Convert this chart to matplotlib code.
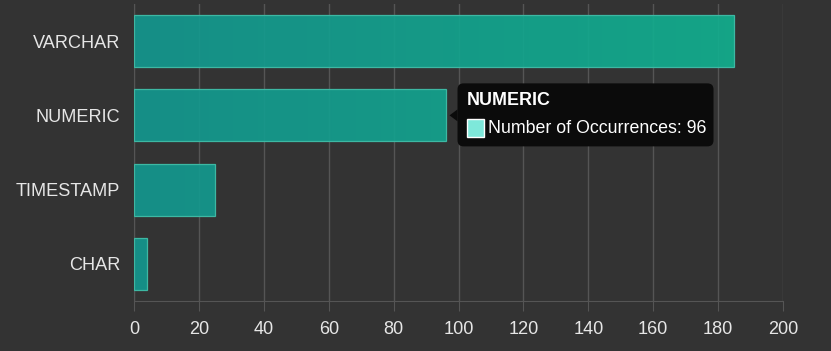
import matplotlib
matplotlib.use("Agg")
from matplotlib import pyplot as plt
from matplotlib.patches import FancyBboxPatch, Polygon, Rectangle
from matplotlib.transforms import Affine2D
from matplotlib.colors import LinearSegmentedColormap
import numpy as np

categories = ["VARCHAR", "NUMERIC", "TIMESTAMP", "CHAR"]
counts = [185, 96, 25, 4]
x_ticks = [0, 20, 40, 60, 80, 100, 120, 140, 160, 180, 200]
tip_index = 1
tip_label = "Number of Occurrences"

bg = "#333333"
grid = "#555555"
txt = "#e6e6e6"

plt.rcParams["font.family"] = ["Liberation Sans", "DejaVu Sans"]

fig = plt.figure(figsize=(8.31, 3.51), dpi=100, facecolor=bg)
W, H = 831, 351
ax = fig.add_axes([134 / W, (351 - 301) / H, (783 - 134) / W, (301 - 4) / H])
ax.set_facecolor(bg)

ypos = np.arange(len(categories))

# horizontal gradient fill shared by all bars
grad = np.linspace(0, 1, 256).reshape(1, -1)
cmap = LinearSegmentedColormap.from_list("tealgrad", ["#14978e", "#12b08f"])
bars = ax.barh(ypos, counts, height=0.7, facecolor="none",
               edgecolor="#3db8a3", linewidth=0.9, zorder=3)
for b in bars:
    im = ax.imshow(grad, cmap=cmap, aspect="auto", extent=[0, 190, 3.5, -0.5],
                   alpha=0.92, zorder=2)
    im.set_clip_path(b)

ax.set_xlim(0, 200)
ax.set_ylim(len(categories) - 0.5, -0.5)
ax.set_xticks(x_ticks)
ax.set_xticklabels([str(t) for t in x_ticks])
ax.set_yticks(ypos)
ax.set_yticklabels(categories)
ax.grid(axis="x", color=grid, linewidth=1, zorder=0)
ax.set_axisbelow(True)
ax.tick_params(axis="x", length=7, color=grid, labelcolor=txt, labelsize=13.1, pad=7.5)
ax.tick_params(axis="y", length=0, labelcolor=txt, labelsize=13.1, pad=10)
for s in ["top", "right"]:
    ax.spines[s].set_visible(False)
ax.spines["left"].set_color(grid)
ax.spines["bottom"].set_color(grid)

# tooltip, laid out in pixels around the end of the hovered bar
px, py = ax.transData.transform((counts[tip_index], ypos[tip_index]))
def tr(dx, dy):
    return Affine2D().translate(px + dx, py + dy)

fig.patches.append(FancyBboxPatch((0, -31), 256, 63, boxstyle="round,pad=0,rounding_size=6",
                                  facecolor="#0b0b0b", edgecolor="none", transform=tr(12, 0),
                                  zorder=10))
fig.patches.append(Polygon([(0, 0), (8, 6), (8, -6)], closed=True, facecolor="#0b0b0b",
                           edgecolor="none", transform=tr(4, 0), zorder=10))
fig.text(0, 0, categories[tip_index], transform=tr(21, 15), color="white",
         fontsize=12.9, fontweight="bold", va="center", ha="left", zorder=11)
fig.patches.append(Rectangle((0, -9), 17, 18, facecolor="#7ee8da", edgecolor="white",
                             linewidth=1, transform=tr(21, -13), zorder=11))
fig.text(0, 0, f"{tip_label}: {counts[tip_index]}", transform=tr(42, -13),
         color="white", fontsize=12.8, va="center", ha="left", zorder=11)

fig.savefig("out.png", dpi=100, facecolor=bg)
